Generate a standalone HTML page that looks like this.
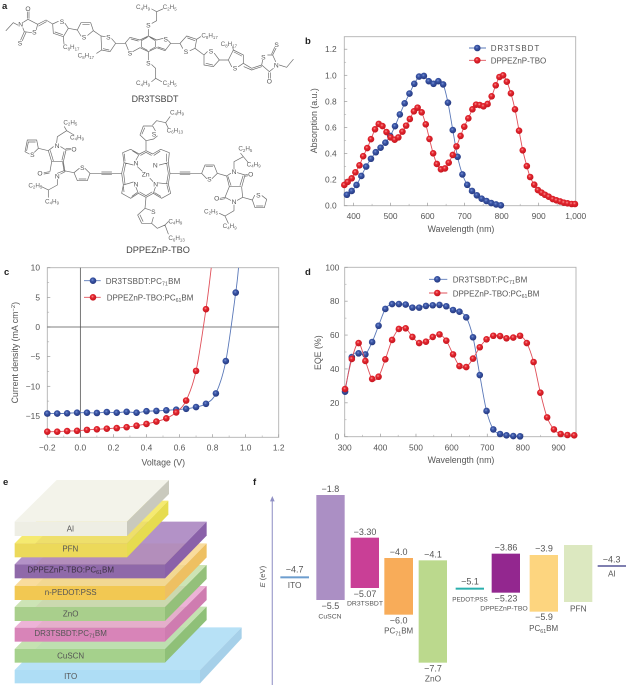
<!DOCTYPE html>
<html lang="en">
<head>
<meta charset="utf-8">
<title>Organic solar cell figure</title>
<style>
html,body{margin:0;padding:0;background:#fff;width:626px;height:685px;overflow:hidden}
svg{display:block;font-family:"Liberation Sans",sans-serif;filter:blur(.3px)}
.bond{fill:none;stroke:#6f6f6f;stroke-width:2.1;stroke-linejoin:round;stroke-linecap:round}
.atom{font-size:20px;fill:#555;text-anchor:middle;paint-order:stroke;stroke:#fff;stroke-width:4px}
.grp{font-size:19px;fill:#666}
.panel{font-size:9.5px;font-weight:bold;fill:#222}
.lbl{font-size:8.4px;fill:#555}
.axt{font-size:8.8px;fill:#555}
.e-lbl{font-size:24px;fill:#555;text-anchor:middle}
.f-lbl{font-size:27px;fill:#555;text-anchor:middle}
.f-name{font-size:25px;fill:#555;text-anchor:middle}
.f-sm{font-size:20.5px;fill:#555;text-anchor:middle}
</style>
</head>
<body>
<svg id="figure" width="626" height="685" viewBox="0 0 626 685" xmlns="http://www.w3.org/2000/svg">
<defs>
<radialGradient id="gradBlue" cx="42%" cy="38%" r="62%"><stop offset="0" stop-color="#7f92d2"/><stop offset=".35" stop-color="#3a57a8"/><stop offset="1" stop-color="#26387f"/></radialGradient>
<radialGradient id="gradRed" cx="42%" cy="38%" r="62%"><stop offset="0" stop-color="#f59a9a"/><stop offset=".35" stop-color="#e5262f"/><stop offset="1" stop-color="#c4161f"/></radialGradient>
<clipPath id="clipC"><rect x="47.3" y="267.7" width="231.4" height="169.6"/></clipPath>
</defs>
<rect width="626" height="685" fill="#fff"/>

<text class="panel" x="2" y="9">a</text>
<text class="panel" x="305" y="44">b</text>
<text class="panel" x="4" y="275">c</text>
<text class="panel" x="305" y="275">d</text>
<text class="panel" x="3" y="485">e</text>
<text class="panel" x="253" y="485">f</text>

<!-- DR3TSBDT molecule -->
<g id="molecule-1" transform="scale(.33333)">
<path class="bond" d="M18 92L40 68L55 76M68 68L84 58L113 73L108 92M96 98L73 95L67 80M73 95L62 120M78 97L67 122M82 30L82 55M87 30L87 55M113 73L138 60M116 78L139 65M138 60L158 72L160 100L190 110L205 85L195 70M175 64L158 72M165 96L188 104M190 110L192 132M205 85L232 90L243 68L272 68L280 92L263 106M243 108L232 90M248 73L268 73M280 92L303 108L316 110M335 116L347 130L330 155L305 150L303 108M327 150L310 146M305 150L290 160M347 130L375 130L390 112L420 120L445 108L470 120L497 113L512 130L495 152L470 143L445 155L420 143L398 155M385 150L377 130M393 117L415 123M424 124L424 140M466 124L466 140M450 112L466 122M450 150L466 141M424 141L442 151M424 122L442 112M495 148L474 141M445 108L445 88M445 155L445 180M456 70L470 62L470 35L455 27M470 35L488 27M455 194L467 205L467 235L455 245M467 235L485 245M512 130L540 130L560 108L590 118L585 145L570 152M548 145L540 130M563 114L585 122M590 118L602 110M585 145L612 165L622 155M643 160L658 180L640 200L612 195L612 165M618 190L638 195M658 180L685 180L700 150L730 165L730 190L715 200M695 200L685 180M702 156L725 168M700 150L698 140M730 190L755 205L785 195M732 200L755 210L785 200M785 195L788 180M803 165L818 165L827 185M820 205L808 215L785 195M818 165L828 145M815 162L824 142M806 218L806 236M811 218L811 236M838 195L860 202L880 178"/>
<g>
<text class="atom" x="84" y="33">O</text>
<text class="atom" x="62" y="79">N</text>
<text class="atom" x="103" y="104">S</text>
<text class="atom" x="60" y="136">S</text>
<text class="atom" x="186" y="72">S</text>
<text class="atom" x="252" y="118">S</text>
<text class="atom" x="325" y="118">S</text>
<text class="atom" x="445" y="83">S</text>
<text class="atom" x="445" y="197">S</text>
<text class="atom" x="390" y="166">S</text>
<text class="atom" x="497" y="124">S</text>
<text class="atom" x="558" y="162">S</text>
<text class="atom" x="633" y="160">S</text>
<text class="atom" x="705" y="212">S</text>
<text class="atom" x="790" y="179">S</text>
<text class="atom" x="830" y="141">S</text>
<text class="atom" x="829" y="202">N</text>
<text class="atom" x="808" y="251">O</text>
</g>
<g class="grp">
<text x="189" y="147">C<tspan font-size="13" dy="4">8</tspan><tspan dy="-4">H</tspan><tspan font-size="13" dy="4">17</tspan></text>
<text x="233" y="173">C<tspan font-size="13" dy="4">8</tspan><tspan dy="-4">H</tspan><tspan font-size="13" dy="4">17</tspan></text>
<text x="604" y="113">C<tspan font-size="13" dy="4">8</tspan><tspan dy="-4">H</tspan><tspan font-size="13" dy="4">17</tspan></text>
<text x="662" y="138">C<tspan font-size="13" dy="4">8</tspan><tspan dy="-4">H</tspan><tspan font-size="13" dy="4">17</tspan></text>
<text x="408" y="27">C<tspan font-size="13" dy="4">4</tspan><tspan dy="-4">H</tspan><tspan font-size="13" dy="4">9</tspan></text>
<text x="488" y="27">C<tspan font-size="13" dy="4">2</tspan><tspan dy="-4">H</tspan><tspan font-size="13" dy="4">5</tspan></text>
<text x="408" y="255">C<tspan font-size="13" dy="4">4</tspan><tspan dy="-4">H</tspan><tspan font-size="13" dy="4">9</tspan></text>
<text x="488" y="255">C<tspan font-size="13" dy="4">2</tspan><tspan dy="-4">H</tspan><tspan font-size="13" dy="4">5</tspan></text>
</g>
</g>
<text x="155" y="102" font-size="8.9" fill="#444" text-anchor="middle">DR3TSBDT</text>

<!-- DPPEZnP-TBO molecule -->
<g id="molecule-2" transform="translate(0,110) scale(.33333)">
<path class="bond" d="M400 165L372 158L368 128L392 118L418 132L408 150M375 153L373 132M398 123L414 133M458 132L482 118L508 128L505 158L478 165M462 136L480 124M500 132L500 154M400 216L370 225L365 250L392 265L415 250L408 232M372 245L370 229M396 259L411 248M470 218L505 222L512 250L485 265L460 250L466 232M506 246L501 226M482 259L464 248M418 132L438 122L458 132M422 136L438 127L454 136M372 158L365 190L370 225M377 160L371 190L375 222M505 158L510 190L505 222M500 160L505 190L500 220M415 250L438 262L460 250M419 246L438 257L456 246M412 170L428 185M450 205L462 218M438 120L438 92L420 75L430 48L458 48L466 62M472 78L461 87L438 92M426 72L434 54M458 45L470 32L497 38L510 20M497 38L505 55M438 262L435 295L413 315L425 340L455 340L460 322M456 302L435 295M420 315L429 334M455 340L472 355L495 345L505 335M495 345L505 372M365 190L335 190M305 190L270 190M335 186L305 186M335 190L305 190M335 194L305 194M270 190L262 212L232 212L222 188L238 175M255 175L270 190M258 207L237 207M222 188L192 182L172 190M150 184L155 155L145 122L160 110M182 110L198 120L190 155L195 185L182 192M155 155L190 155M151 122L160 152M186 150L192 125M198 120L212 119M198 116L212 115M148 185L132 188M148 189L132 192M192 182L188 157M145 122L115 115L102 128M88 132L75 125L82 90L110 90L115 115M85 96L106 96M80 122L85 96M170 98L172 80L200 62L193 50M200 62L222 75M172 208L172 225L145 240L125 230M145 240L145 262M510 190L540 190M570 190L605 190M540 186L570 186M540 190L570 190M540 194L570 194M605 190L615 165L642 165L652 190L636 206M620 206L605 190M618 170L638 170M652 190L680 198L692 190M712 188L735 195L725 232L728 262L712 271M692 271L675 262L688 230L680 198M688 230L722 230M684 200L693 226M720 226L729 198M735 195L745 193M735 199L745 197M675 262L660 265M675 266L660 269M728 262L757 270L765 293L793 293L800 268L786 257M764 256L757 270M769 288L789 288M702 178L702 155L730 140L722 130M730 140L745 158M702 285L702 302L675 318L658 310M675 318L685 340"/>
<g>
<text class="atom" x="408" y="167">N</text>
<text class="atom" x="466" y="172">N</text>
<text class="atom" x="408" y="229">N</text>
<text class="atom" x="467" y="229">N</text>
<text class="atom" x="437" y="199">Zn</text>
<text class="atom" x="462" y="79">S</text>
<text class="atom" x="460" y="312">S</text>
<text class="atom" x="247" y="180">S</text>
<text class="atom" x="628" y="215">S</text>
<text class="atom" x="97" y="141">S</text>
<text class="atom" x="775" y="262">S</text>
<text class="atom" x="171" y="114">N</text>
<text class="atom" x="172" y="205">N</text>
<text class="atom" x="702" y="192">N</text>
<text class="atom" x="702" y="282">N</text>
<text class="atom" x="222" y="125">O</text>
<text class="atom" x="120" y="197">O</text>
<text class="atom" x="752" y="200">O</text>
<text class="atom" x="650" y="272">O</text>
</g>
<g class="grp">
<text x="510" y="13">C<tspan font-size="13" dy="4">4</tspan><tspan dy="-4">H</tspan><tspan font-size="13" dy="4">9</tspan></text>
<text x="500" y="67">C<tspan font-size="13" dy="4">6</tspan><tspan dy="-4">H</tspan><tspan font-size="13" dy="4">13</tspan></text>
<text x="505" y="340">C<tspan font-size="13" dy="4">4</tspan><tspan dy="-4">H</tspan><tspan font-size="13" dy="4">9</tspan></text>
<text x="505" y="390">C<tspan font-size="13" dy="4">6</tspan><tspan dy="-4">H</tspan><tspan font-size="13" dy="4">13</tspan></text>
<text x="190" y="43">C<tspan font-size="13" dy="4">2</tspan><tspan dy="-4">H</tspan><tspan font-size="13" dy="4">5</tspan></text>
<text x="210" y="88">C<tspan font-size="13" dy="4">4</tspan><tspan dy="-4">H</tspan><tspan font-size="13" dy="4">9</tspan></text>
<text x="85" y="232">C<tspan font-size="13" dy="4">2</tspan><tspan dy="-4">H</tspan><tspan font-size="13" dy="4">5</tspan></text>
<text x="135" y="280">C<tspan font-size="13" dy="4">4</tspan><tspan dy="-4">H</tspan><tspan font-size="13" dy="4">9</tspan></text>
<text x="715" y="122">C<tspan font-size="13" dy="4">2</tspan><tspan dy="-4">H</tspan><tspan font-size="13" dy="4">5</tspan></text>
<text x="740" y="169">C<tspan font-size="13" dy="4">4</tspan><tspan dy="-4">H</tspan><tspan font-size="13" dy="4">9</tspan></text>
<text x="612" y="310">C<tspan font-size="13" dy="4">2</tspan><tspan dy="-4">H</tspan><tspan font-size="13" dy="4">5</tspan></text>
<text x="668" y="354">C<tspan font-size="13" dy="4">4</tspan><tspan dy="-4">H</tspan><tspan font-size="13" dy="4">9</tspan></text>
</g>
</g>
<text x="158" y="253" font-size="9.2" fill="#444" text-anchor="middle">DPPEZnP-TBO</text>

<!-- chart containers -->
<g id="chart-b"></g>
<g id="chart-c"></g>
<g id="chart-d"></g>

<!-- axis titles -->
<text class="axt" x="461" y="232" text-anchor="middle">Wavelength (nm)</text>
<text class="axt" transform="translate(317,120.7) rotate(-90)" text-anchor="middle">Absorption (a.u.)</text>
<text class="axt" x="163.3" y="465.7" text-anchor="middle">Voltage (V)</text>
<text class="axt" transform="translate(18,352.7) rotate(-90)" text-anchor="middle">Current density (mA cm<tspan font-size="5.8" dy="-3">−2</tspan><tspan dy="3">)</tspan></text>
<text class="axt" x="461" y="463" text-anchor="middle">Wavelength (nm)</text>
<text class="axt" transform="translate(321,352.7) rotate(-90)" text-anchor="middle">EQE (%)</text>

<!-- legend b -->
<g>
<g><line x1="469" x2="486" y1="48" y2="48" stroke="#5a78b8" stroke-width=".9"/><circle cx="477.3" cy="48" r="3.3" fill="url(#gradBlue)"/><text class="lbl" x="490.7" y="51" style="font-size:8px;letter-spacing:.9px">DR3TSBDT</text></g>
<g><line x1="469" x2="486" y1="60.3" y2="60.3" stroke="#e0505a" stroke-width=".9"/><circle cx="477.3" cy="60.3" r="3.3" fill="url(#gradRed)"/><text class="lbl" x="490.7" y="63.3" style="font-size:8px">DPPEZnP-TBO</text></g>
</g>
<!-- legend c -->
<g>
<g><line x1="84" x2="100.7" y1="280.7" y2="280.7" stroke="#5a78b8" stroke-width=".9"/><circle cx="93" cy="280.7" r="3.3" fill="url(#gradBlue)"/><text class="lbl" x="105.7" y="284" style="font-size:8px;letter-spacing:.15px">DR3TSBDT:PC<tspan font-size="5.2" dy="1.5">71</tspan><tspan dy="-1.5">BM</tspan></text></g>
<g><line x1="84" x2="100.7" y1="297.3" y2="297.3" stroke="#e0505a" stroke-width=".9"/><circle cx="93" cy="297.3" r="3.3" fill="url(#gradRed)"/><text class="lbl" x="106.7" y="300.7" style="font-size:8px">DPPEZnP-TBO:PC<tspan font-size="5.2" dy="1.5">61</tspan><tspan dy="-1.5">BM</tspan></text></g>
</g>
<!-- legend d -->
<g>
<g><line x1="429" x2="447.3" y1="279.3" y2="279.3" stroke="#5a78b8" stroke-width=".9"/><circle cx="437.3" cy="279.3" r="3.3" fill="url(#gradBlue)"/><text class="lbl" x="452.7" y="282.5" style="font-size:8px;letter-spacing:.15px">DR3TSBDT:PC<tspan font-size="5.2" dy="1.5">71</tspan><tspan dy="-1.5">BM</tspan></text></g>
<g><line x1="429" x2="447.3" y1="293" y2="293" stroke="#e0505a" stroke-width=".9"/><circle cx="437.3" cy="293" r="3.3" fill="url(#gradRed)"/><text class="lbl" x="452.7" y="296.3" style="font-size:8px">DPPEZnP-TBO:PC<tspan font-size="5.2" dy="1.5">61</tspan><tspan dy="-1.5">BM</tspan></text></g>
</g>

<!-- panel e: device stack -->
<g transform="translate(0,470) scale(.33333)">
<g><polygon points="44,600 600,600 725,472 170,472" fill="#b7e1f6"/><polygon points="600,600 725,472 725,505 600,640" fill="#a6d0e9"/><rect x="44" y="600" width="556" height="40" fill="#aeddf5"/><text class="e-lbl" x="212" y="627">ITO</text></g>
<g><polygon points="44,537 495,537 620,410 170,410" fill="#bfdfa8" fill-opacity=".9"/><polygon points="495,537 620,410 620,450 495,578" fill="#8fc078"/><rect x="44" y="537" width="451" height="41" fill="#a5d18c"/><text class="e-lbl" x="212" y="565">CuSCN</text></g>
<g><polygon points="44,473 495,473 620,348 170,348" fill="#eaa6d0" fill-opacity=".85"/><polygon points="495,473 620,348 620,390 495,515" fill="#cf7cb0"/><rect x="44" y="473" width="451" height="42" fill="#d884b8"/><text class="e-lbl" x="212" y="498">DR3TSBDT:PC<tspan font-size="16" dy="5">71</tspan><tspan dy="-5">BM</tspan></text></g>
<g><polygon points="44,411 495,411 620,285 170,285" fill="#c4dfa8" fill-opacity=".85"/><polygon points="495,411 620,285 620,327 495,453" fill="#94c07a"/><rect x="44" y="411" width="451" height="42" fill="#a9cf8c"/><text class="e-lbl" x="212" y="440">ZnO</text></g>
<g><polygon points="44,348 495,348 620,220 170,220" fill="#f8d68c" fill-opacity=".85"/><polygon points="495,348 620,220 620,262 495,390" fill="#eec062"/><rect x="44" y="348" width="451" height="42" fill="#f2c852"/><text class="e-lbl" x="212" y="375">n-PEDOT:PSS</text></g>
<g><polygon points="44,283 495,283 620,155 170,155" fill="#a883bf" fill-opacity=".88"/><polygon points="495,283 620,155 620,197 495,325" fill="#8a61a9"/><rect x="44" y="283" width="451" height="42" fill="#8f69a9"/><text class="e-lbl" x="212" y="307" style="fill:#3a3040">DPPEZnP-TBO:PC<tspan font-size="16" dy="5">61</tspan><tspan dy="-5">BM</tspan></text></g>
<g><polygon points="44,220 381,220 505,92 170,92" fill="#f4e860" fill-opacity=".9"/><polygon points="381,220 505,92 505,134 381,262" fill="#e6dc50"/><rect x="44" y="220" width="337" height="42" fill="#ecd95a"/><text class="e-lbl" x="211" y="245">PFN</text></g>
<g><polygon points="44,155 381,155 507,30 170,30" fill="#f3f3ea"/><polygon points="381,155 507,30 507,72 381,198" fill="#c9c9bd"/><rect x="44" y="155" width="337" height="43" fill="#eeeee4"/><text class="e-lbl" x="211" y="185">Al</text></g>
</g>

<!-- panel f: energy diagram -->
<g transform="translate(255,470) scale(.33333)">
<g><line x1="52" x2="52" y1="90" y2="645" stroke="#a9a9d2" stroke-width="4"/><polygon points="52,78 45,94 59,94" fill="#8f8fc4"/></g>
<text class="f-lbl" style="font-size:23px" transform="translate(30,320) rotate(-90)"><tspan font-style="italic">E</tspan> (eV)</text>

<g><rect x="76" y="319" width="86" height="6" fill="#6d9ecf"/><text class="f-lbl" x="119" y="307">−4.7</text><text class="f-name" x="119" y="354">ITO</text></g>
<g><rect x="184" y="75" width="85" height="315" fill="#ab8fc4"/><text class="f-lbl" x="226" y="66">−1.8</text><text class="f-lbl" x="226" y="417">−5.5</text><text class="f-sm" x="225" y="446">CuSCN</text></g>
<g><rect x="287" y="203" width="85" height="151" fill="#c93f96"/><text class="f-lbl" x="330" y="195">−3.30</text><text class="f-lbl" x="330" y="381">−5.07</text><text class="f-sm" x="330" y="406">DR3TSBDT</text></g>
<g><rect x="388" y="264" width="86" height="170" fill="#f8ac59"/><text class="f-lbl" x="431" y="255">−4.0</text><text class="f-lbl" x="431" y="460">−6.0</text><text class="f-name" style="font-size:24px" x="431" y="490">PC<tspan font-size="16" dy="6">71</tspan><tspan dy="-6">BM</tspan></text></g>
<g><rect x="491" y="271" width="85" height="307" fill="#bbd98d"/><text class="f-lbl" x="534" y="262">−4.1</text><text class="f-lbl" x="534" y="605">−7.7</text><text class="f-name" x="534" y="635">ZnO</text></g>
<g><rect x="602" y="353" width="85" height="6" fill="#2ab0ad"/><text class="f-lbl" x="645" y="344">−5.1</text><text class="f-sm" style="font-size:19px" x="645" y="395">PEDOT:PSS</text></g>
<g><rect x="710" y="251" width="85" height="117" fill="#93278f"/><text class="f-lbl" x="753" y="241">−3.86</text><text class="f-lbl" x="753" y="394">−5.23</text><text class="f-sm" x="747" y="422">DPPEZnP-TBO</text></g>
<g><rect x="824" y="255" width="85" height="170" fill="#fdd57f"/><text class="f-lbl" x="867" y="244">−3.9</text><text class="f-lbl" x="867" y="450">−5.9</text><text class="f-name" style="font-size:24px" x="866" y="483">PC<tspan font-size="16" dy="6">61</tspan><tspan dy="-6">BM</tspan></text></g>
<g><rect x="927" y="225" width="85" height="171" fill="#dce8c0"/><text class="f-name" x="970" y="425">PFN</text></g>
<g><rect x="1028" y="285" width="85" height="6" fill="#7f7fb0"/><text class="f-lbl" x="1070" y="277">−4.3</text><text class="f-name" x="1070" y="320">Al</text></g>
</g>
</svg>

<script>
// ---------- panel b: absorption ----------
const absBlueWavelength = [382,395,408,421,434,447,460,473,486,499,512,525,538,551,564,577,590,603,616,629,642,655,668,681,694,707,720,733,746,759,772,785,798];
const absBlueValues = [.084,.113,.159,.228,.30,.36,.41,.445,.483,.535,.61,.70,.785,.86,.935,.99,.995,.955,.935,.955,.93,.79,.58,.375,.24,.16,.113,.08,.054,.036,.02,.01,.003];
const absRedWavelength = [375,384,395,405,416,426,437,447,458,468,478,489,500,511,521,532,542,552,563,573,584,595,605,615,625,636,647,657,668,678,689,699,710,721,731,741,751,762,773,784,794,804,814,825,836,847,857,868,877,888,898,908,917,927,938,948,958,968,978,989,998];
const absRedValues = [.159,.182,.21,.256,.31,.38,.442,.51,.586,.627,.611,.565,.524,.506,.524,.568,.614,.665,.724,.752,.716,.624,.512,.402,.32,.279,.286,.33,.389,.455,.535,.606,.67,.739,.775,.772,.762,.78,.839,.923,.987,1.0,.951,.862,.739,.575,.425,.304,.22,.161,.12,.10,.084,.069,.051,.041,.033,.023,.018,.013,.013];
const absXTicks = [400,500,600,700,800,900,1000];
const absXTickLabels = ['400','500','600','700','800','900','1,000'];
const absXMinor = [450,550,650,750,850,950];
const absYTicks = [0,.2,.4,.6,.8,1.0,1.2];
const absYTickLabels = ['0.0','0.2','0.4','0.6','0.8','1.0','1.2'];
const absYMinor = [.1,.3,.5,.7,.9,1.1];

// ---------- panel c: J-V ----------
const jvVoltage = [-.2,-.14,-.08,-.02,.04,.1,.16,.22,.28,.34,.4,.46,.52,.58,.64,.7,.76,.82,.88,.94];
const jvBlueCurrent = [-14.6,-14.6,-14.55,-14.45,-14.45,-14.5,-14.35,-14.45,-14.3,-14.45,-14.2,-14.15,-14.05,-13.95,-13.8,-13.5,-12.95,-11.2,-5.75,5.8];
const jvBlueFitEnd = [0.957,10];
const jvRedVoltage = [-.2,-.14,-.08,-.02,.04,.1,.16,.22,.28,.34,.4,.46,.52,.58,.64,.7,.76];
const jvRedCurrent = [-17.65,-17.65,-17.55,-17.5,-17.35,-17.25,-17.15,-17.05,-16.9,-16.65,-16.35,-15.95,-15.4,-14.4,-12.4,-7.4,3.0];
const jvRedFitEnd = [0.792,10];
const jvXTicks = [-.2,0,.2,.4,.6,.8,1,1.2];
const jvXTickLabels = ['−0.2','0.0','0.2','0.4','0.6','0.8','1.0','1.2'];
const jvXMinor = [-.1,.1,.3,.5,.7,.9,1.1];
const jvYTicks = [-15,-10,-5,0,5,10];
const jvYTickLabels = ['−15','−10','−5','0','5','10'];
const jvYMinor = [-17.5,-12.5,-7.5,-2.5,2.5,7.5];

// ---------- panel d: EQE ----------
const eqeBlueWavelength = [301,320,339,358,377,395,414,433,452,471,490,509,528,547,566,585,604,622,641,660,679,698,717,736,754,773,792];
const eqeBlueValues = [26.6,47,49.2,48.6,55.9,65.5,75.4,78.3,78.3,78,76.2,76.2,77.2,77.6,77.8,77,74.8,73.8,70.5,58.7,36.4,15.2,4.3,1.6,.8,.4,.2];
const eqeRedWavelength = [301,320,339,358,377,395,414,433,452,471,490,509,528,547,566,585,604,622,641,660,679,698,717,736,754,773,792,811,830,849,868,887,906,925,944];
const eqeRedValues = [28.1,45.9,55.3,44.7,34.1,35.4,45.7,57.1,63.6,64,58.9,55.3,56.1,58.9,60.4,56.7,48.6,41.7,41.1,46.1,52.8,57.5,59.6,59.4,58.1,58.5,59.6,55.3,44.1,26,11.4,4.3,1.6,1,.8];
const eqeXTicks = [300,400,500,600,700,800,900];
const eqeXTickLabels = ['300','400','500','600','700','800','900'];
const eqeXMinor = [350,450,550,650,750,850];
const eqeYTicks = [0,20,40,60,80,100];
const eqeYTickLabels = ['0','20','40','60','80','100'];
const eqeYMinor = [10,30,50,70,90];

const NS = 'http://www.w3.org/2000/svg';
function make(tag, attrs, parent) {
  const node = document.createElementNS(NS, tag);
  for (const k in attrs) node.setAttribute(k, attrs[k]);
  parent.appendChild(node);
  return node;
}
function linear(d0, d1, r0, r1) {
  return function (v) { return r0 + (v - d0) * (r1 - r0) / (d1 - d0); };
}
function smoothPath(pts) {
  let d = 'M' + pts[0][0].toFixed(2) + ' ' + pts[0][1].toFixed(2);
  for (let i = 0; i < pts.length - 1; i++) {
    const p0 = pts[Math.max(i - 1, 0)], p1 = pts[i], p2 = pts[i + 1], p3 = pts[Math.min(i + 2, pts.length - 1)];
    const c1x = p1[0] + (p2[0] - p0[0]) / 6, c1y = p1[1] + (p2[1] - p0[1]) / 6;
    const c2x = p2[0] - (p3[0] - p1[0]) / 6, c2y = p2[1] - (p3[1] - p1[1]) / 6;
    d += 'C' + c1x.toFixed(2) + ' ' + c1y.toFixed(2) + ' ' + c2x.toFixed(2) + ' ' + c2y.toFixed(2) + ' ' + p2[0].toFixed(2) + ' ' + p2[1].toFixed(2);
  }
  return d;
}
function drawAxes(root, box, x, y, xT, xL, xM, yT, yL, yM, xBase, yRight) {
  const frame = make('rect', {x: box.l, y: box.t, width: box.r - box.l, height: box.b - box.t, fill: 'none', stroke: '#b2b2b2', 'stroke-width': .9}, root);
  
  
  xT.forEach(function (v, i) {
    const t = make('line', {x1: x(v), x2: x(v), y1: box.b, y2: box.b - 3, stroke: '#999', 'stroke-width': .7}, root);
    
    
    const lab = make('text', {x: x(v), y: xBase, 'text-anchor': 'middle', 'class': 'lbl'}, root);
    lab.textContent = xL[i];
    
    
  });
  xM.forEach(function (v) {
    const t = make('line', {x1: x(v), x2: x(v), y1: box.b, y2: box.b - 1.8, stroke: '#aaa', 'stroke-width': .6}, root);
    
    
  });
  yT.forEach(function (v, i) {
    const t = make('line', {x1: box.l, x2: box.l + 3, y1: y(v), y2: y(v), stroke: '#999', 'stroke-width': .7}, root);
    
    
    const lab = make('text', {x: yRight, y: y(v) + 3, 'text-anchor': 'end', 'class': 'lbl'}, root);
    lab.textContent = yL[i];
    
    
  });
  yM.forEach(function (v) {
    const t = make('line', {x1: box.l, x2: box.l + 1.8, y1: y(v), y2: y(v), stroke: '#aaa', 'stroke-width': .6}, root);
    
    
  });
}
function drawSeries(root, xs, ys, x, y, color, grad, name, r, extra, clip) {
  const pts = xs.map(function (v, i) { return [x(v), y(ys[i])]; });
  const linePts = extra ? pts.concat([[x(extra[0]), y(extra[1])]]) : pts;
  const line = make('path', {d: smoothPath(linePts), fill: 'none', stroke: color, 'stroke-width': .9}, root);
  if (clip) line.setAttribute('clip-path', clip);
  
  
  pts.forEach(function (p) {
    const c = make('circle', {cx: p[0], cy: p[1], r: r, fill: grad}, root);
    
    
  });
}

// chart b
(function () {
  const root = document.getElementById('chart-b');
  const box = {l: 344.3, r: 575.7, t: 36.7, b: 205.7};
  const x = linear(375, 1000, box.l, box.r), y = linear(0, 1.296, box.b, box.t);
  drawAxes(root, box, x, y, absXTicks, absXTickLabels, absXMinor, absYTicks, absYTickLabels, absYMinor, 219, 336.7);
  drawSeries(root, absBlueWavelength, absBlueValues, x, y, '#5a78b8', 'url(#gradBlue)', 'dr3tsbdt', 3.3);
  drawSeries(root, absRedWavelength, absRedValues, x, y, '#e0505a', 'url(#gradRed)', 'dppeznp-tbo', 3.3);
})();

// chart c
(function () {
  const root = document.getElementById('chart-c');
  const box = {l: 47.3, r: 278.7, t: 267.7, b: 437.3};
  const x = linear(-.2, 1.2, box.l, box.r), y = linear(0, 10, 327, box.t);
  drawAxes(root, box, x, y, jvXTicks, jvXTickLabels, jvXMinor, jvYTicks, jvYTickLabels, jvYMinor, 450.7, 40);
  const h = make('line', {x1: box.l, x2: box.r, y1: y(0), y2: y(0), stroke: '#555', 'stroke-width': .8}, root);
  
  
  const v = make('line', {x1: x(0), x2: x(0), y1: box.t, y2: box.b, stroke: '#555', 'stroke-width': .8}, root);
  
  
  drawSeries(root, jvVoltage, jvBlueCurrent, x, y, '#5a78b8', 'url(#gradBlue)', 'dr3tsbdt-pc71bm', 3.3, jvBlueFitEnd, 'url(#clipC)');
  drawSeries(root, jvRedVoltage, jvRedCurrent, x, y, '#e0505a', 'url(#gradRed)', 'dppeznp-tbo-pc61bm', 3.3, jvRedFitEnd, 'url(#clipC)');
})();

// chart d
(function () {
  const root = document.getElementById('chart-d');
  const box = {l: 344.7, r: 576, t: 267.3, b: 436.7};
  const x = linear(300, 949, box.l, box.r), y = linear(0, 100, box.b, box.t);
  drawAxes(root, box, x, y, eqeXTicks, eqeXTickLabels, eqeXMinor, eqeYTicks, eqeYTickLabels, eqeYMinor, 450.7, 339.3);
  drawSeries(root, eqeBlueWavelength, eqeBlueValues, x, y, '#5a78b8', 'url(#gradBlue)', 'dr3tsbdt-pc71bm', 3.3);
  drawSeries(root, eqeRedWavelength, eqeRedValues, x, y, '#e0505a', 'url(#gradRed)', 'dppeznp-tbo-pc61bm', 3.3);
})();
</script>
</body>
</html>
